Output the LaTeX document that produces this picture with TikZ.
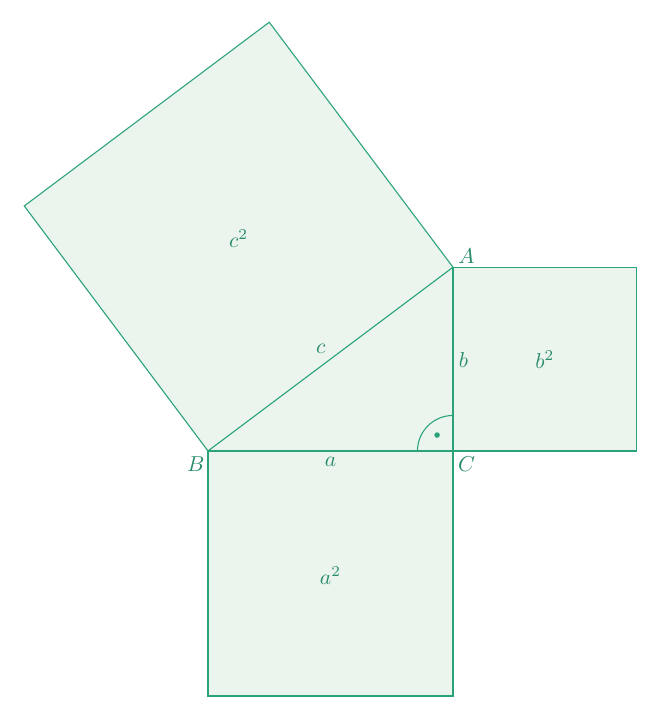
\documentclass[tikz,border=0pt]{standalone}
\usetikzlibrary{calc}
\definecolor{pgreen}{RGB}{42,163,122}
\definecolor{pfill}{RGB}{235,245,238}
\definecolor{ptext}{RGB}{40,140,105}
\begin{document}
\begin{tikzpicture}[
  sq/.style={draw=pgreen, fill=pfill, line width=0.5pt, line join=miter},
  lbl/.style={text=ptext, inner sep=1pt}
]
\useasboundingbox (-7.396,-4.229) rectangle (3.510,7.363);
\coordinate (C) at (0,0);
\coordinate (B) at (-4,0);
\coordinate (A) at (0,3);
% triangle fill
\fill[pfill] (B) -- (C) -- (A) -- cycle;
% squares
\filldraw[sq] (B) -- (C) -- (0,-4) -- (-4,-4) -- cycle;
\filldraw[sq] (C) -- (3,0) -- (3,3) -- (A) -- cycle;
\filldraw[sq] (B) -- (A) -- (-3,7) -- (-7,4) -- cycle;
% right angle
\draw[pgreen, line width=0.5pt] (-0.58,0) arc[start angle=180, end angle=90, radius=0.58];
\fill[pgreen] (-0.26,0.26) circle[radius=0.045];
% vertex labels
\node[lbl] (lA) at (0.22,3.18) {$A$};
\node[lbl] (lB) at (-4.2,-0.21) {$B$};
\node[lbl] (lC) at (0.22,-0.21) {$C$};
% side labels
\node[lbl] (la) at (-2.0,-0.17) {$a$};
\node[lbl] (lb) at (0.17,1.49) {$b$};
\node[lbl] (lc) at (-2.16,1.67) {$c$};
% area labels
\node[lbl] (la2) at (-2.0,-2.03) {$a^2$};
\node[lbl] (lb2) at (1.5,1.49) {$b^2$};
\node[lbl] (lc2) at (-3.5,3.47) {$c^2$};
\end{tikzpicture}
\end{document}
